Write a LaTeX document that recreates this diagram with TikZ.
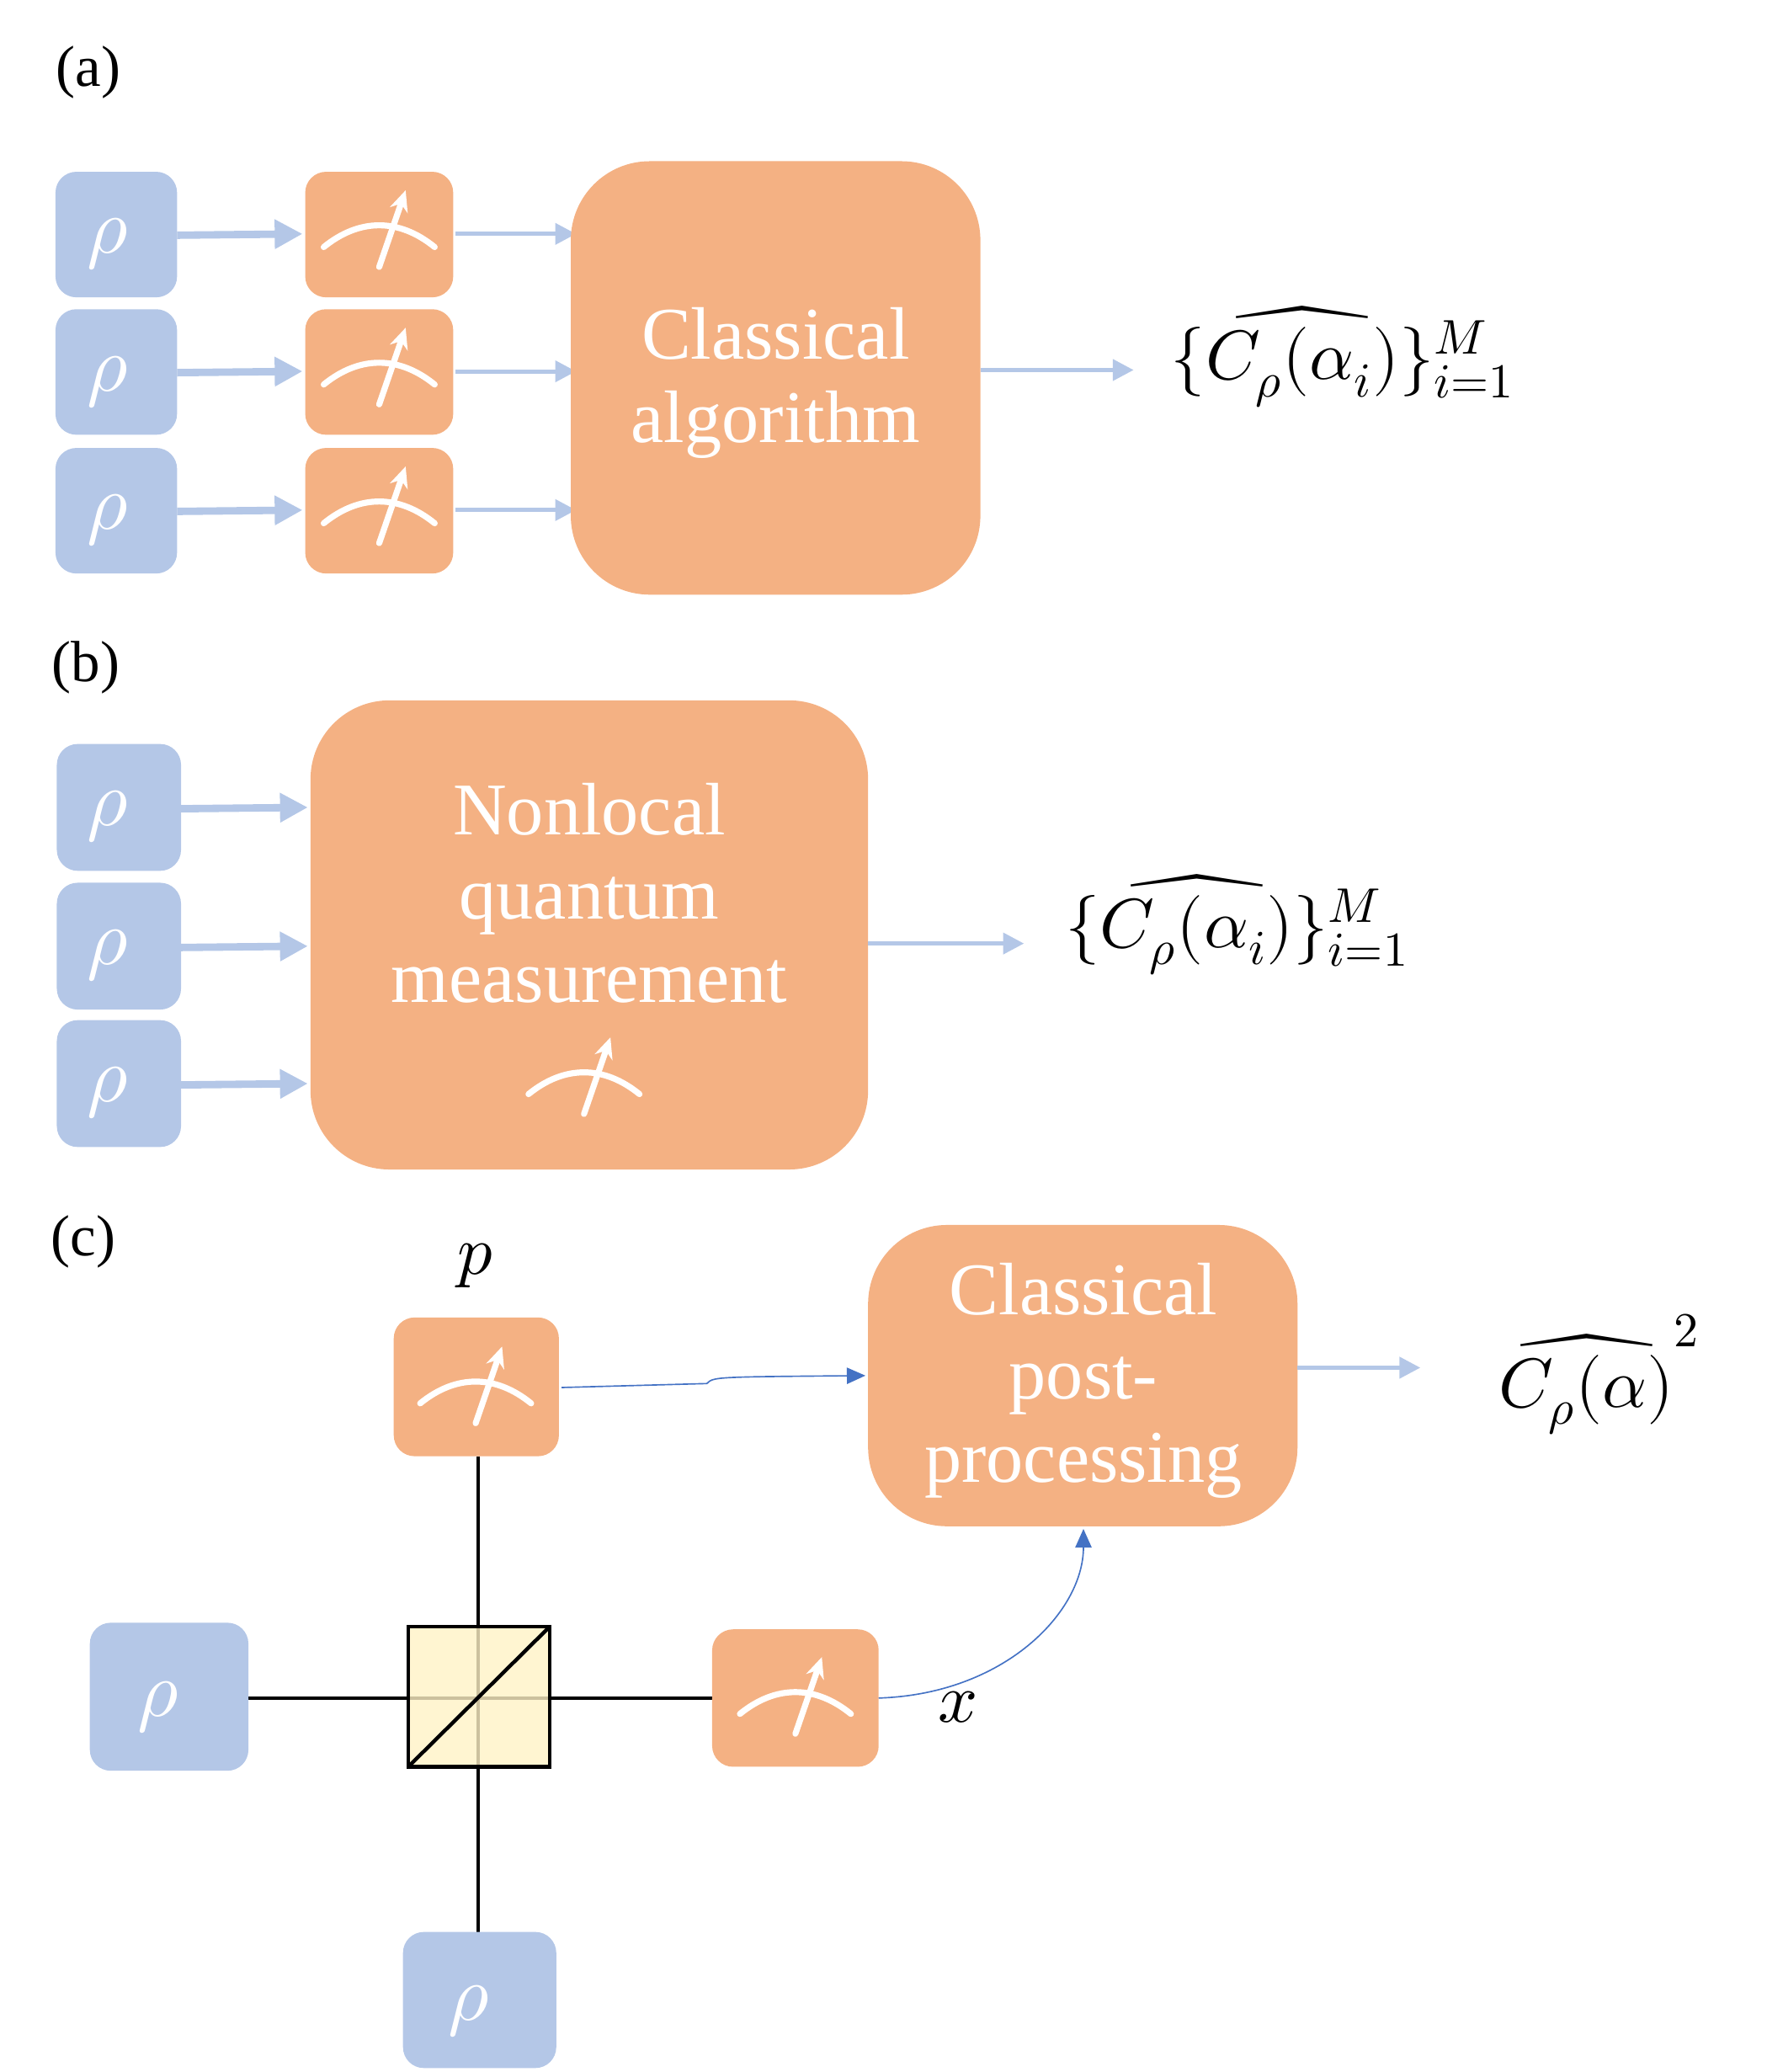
\documentclass[tikz,border=0pt]{standalone}
\usepackage{fontspec}
\usepackage{unicode-math}
\setmainfont{Liberation Serif}
\setmathfont{Latin Modern Math}
\usetikzlibrary{arrows.meta}
\definecolor{rb}{HTML}{B4C7E7}
\definecolor{og}{HTML}{F4B183}
\definecolor{bs}{HTML}{FFF2C6}
\definecolor{ab}{HTML}{4472C4}
\begin{document}
\begin{tikzpicture}[x=0.02cm,y=-0.02cm,
  rho/.style={fill=rb,rounded corners=9pt},
  box/.style={fill=og,rounded corners=9pt},
  big/.style={fill=og,rounded corners=34pt},
  rl/.style={text=white,font=\fontsize{34}{34}\selectfont},
  thick arr/.style={draw=rb,line width=3.2pt,-{Triangle[length=12pt,width=12pt]}},
  thin arr/.style={draw=rb,line width=1.8pt,-{Triangle[length=9pt,width=9pt]}},
  bl arr/.style={draw=ab,line width=0.6pt,-{Triangle[length=8pt,width=7pt]}},
  wt/.style={text=white,font=\fontsize{32}{36}\selectfont,align=center},
  lab/.style={font=\fontsize{25}{25}\selectfont},
  ml/.style={font=\fontsize{30}{30}\selectfont},
  meter/.pic={\draw[white,line width=2.6pt,line cap=round] (-42,10) .. controls (-15,-12) and (15,-12) .. (42,10);
    \draw[white,line width=2.6pt,line cap=round,-{Stealth[length=9pt,width=8pt]}] (0,25) -- (20,-33);}
]
\useasboundingbox (0,0) rectangle (1349,1568);
% (a)
\node[lab] at (67,55) {(a)};
\foreach \y [count=\i] in {177,281,386}{
  \fill[rho] (42,{\y-47}) rectangle (134,{\y+48});
  \node[rl] (ra\i) at (82,{\y+8}) {$\rho$};
  \fill[box] (231,{\y-47}) rectangle (343,{\y+48});
  \pic at (287,\y) {meter};
  \draw[thick arr] (134,{\y+1}) -- (229,\y);
  \draw[thin arr] (345,\y) -- (436,\y);
}
\fill[big] (432,122) rectangle (742,450);
\node[wt] (ca) at (587,290) {Classical\\algorithm};
\coordinate (oa) at (858,280);
\draw[thin arr] (742,280) -- (oa);
\node[ml,anchor=west] (la) at (880,270) {$\{\widehat{C_\rho(\alpha_i)}\}_{i=1}^{M}$};
% (b)
\node[lab] at (65,505) {(b)};
\foreach \y [count=\i] in {611,716,820}{
  \fill[rho] (43,{\y-48}) rectangle (137,{\y+48});
  \node[rl] (rb\i) at (82,{\y+7}) {$\rho$};
  \draw[thick arr] (137,{\y+1}) -- (233,\y);
}
\fill[big] (235,530) rectangle (657,885);
\node[wt] (nq) at (446,676) {Nonlocal\\quantum\\measurement};
\pic at (442,818) {meter};
\draw[thin arr] (657,714) -- (775,714);
\node[ml,anchor=west] (lb) at (800,700) {$\{\widehat{C_\rho(\alpha_i)}\}_{i=1}^{M}$};
% (c)
\node[lab] at (63,940) {(c)};
\node[ml] (pl) at (360,958) {$p$};
\draw[black,line width=1.6pt] (188,1285) -- (539,1285);
\draw[black,line width=1.6pt] (362,1102) -- (362,1462);
\filldraw[fill=bs,fill opacity=0.8,draw=black,line width=1.6pt] (309,1231) rectangle (416,1337);
\draw[black,line width=1.6pt] (309,1337) -- (416,1231);
\fill[box] (298,997) rectangle (423,1102);
\pic at (360,1052) {meter};
\fill[box] (539,1233) rectangle (665,1337);
\pic at (602,1287) {meter};
\fill[rho] (68,1228) rectangle (188,1340);
\node[rl] (rc1) at (120,1292) {$\rho$};
\fill[rho] (305,1462) rectangle (421,1565);
\node[rl] (rc2) at (355,1522) {$\rho$};
\fill[big] (657,927) rectangle (982,1155);
\node[wt] (cp) at (820,1045) {Classical\\post-\\processing};
\draw[bl arr] (425,1050) -- (535,1047) .. controls (540,1042) .. (655,1041);
\draw[bl arr] (665,1285) .. controls (760,1282) and (820,1220) .. (820,1157);
\node[ml] (xl) at (725,1292) {$x$};
\draw[thin arr] (982,1035) -- (1075,1035);
\node[ml,anchor=west] (lc) at (1128,1040) {$\widehat{C_\rho(\alpha)}^{2}$};
\end{tikzpicture}
\end{document}
